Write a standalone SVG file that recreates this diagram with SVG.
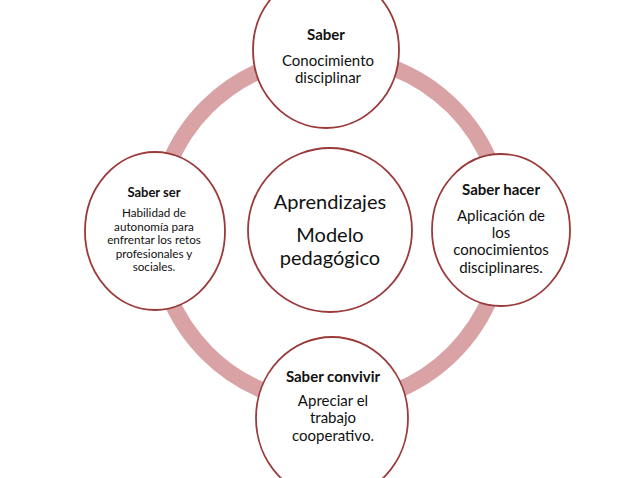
<svg xmlns="http://www.w3.org/2000/svg" width="638" height="478" viewBox="0 0 638 478">
<style>
.node{fill:#ffffff;stroke:#9b3a3a;stroke-width:1.8}
.ring{fill:none;stroke:#d9a3a6;stroke-width:16}
text{font-family:Lato,"Open Sans","Liberation Sans",sans-serif;fill:#111;text-anchor:middle}
.t{font-weight:bold;font-size:15px}
.b{font-size:15px}
.s{font-size:11.7px}
.c{font-size:20px}
</style>
<rect width="638" height="478" fill="#ffffff"/>
<g id="connectors">
<circle class="ring" cx="330" cy="230" r="174"/>
</g>
<g id="saber">
<ellipse class="node" cx="326" cy="50" rx="73" ry="78"/>
<text class="t" x="326" y="40">Saber</text>
<text class="b" x="328" y="66">Conocimiento</text>
<text class="b" x="328" y="83">disciplinar</text>
</g>
<g id="saber-hacer">
<ellipse class="node" cx="501" cy="230" rx="69" ry="76"/>
<text class="t" x="501" y="195">Saber hacer</text>
<text class="b" x="501" y="221">Aplicación de</text>
<text class="b" x="501" y="238">los</text>
<text class="b" x="501" y="255">conocimientos</text>
<text class="b" x="501" y="273">disciplinares.</text>
</g>
<g id="saber-ser">
<ellipse class="node" cx="155" cy="231" rx="70" ry="79"/>
<text class="t" x="154" y="197" style="font-size:13px">Saber ser</text>
<text class="s" x="154" y="217">Habilidad de</text>
<text class="s" x="154" y="230.5">autonomía para</text>
<text class="s" x="154" y="244">enfrentar los retos</text>
<text class="s" x="154" y="257.5">profesionales y</text>
<text class="s" x="154" y="271">sociales.</text>
</g>
<g id="saber-convivir">
<ellipse class="node" cx="332" cy="418" rx="76" ry="81"/>
<text class="t" x="333" y="382">Saber convivir</text>
<text class="b" x="333" y="406">Apreciar el</text>
<text class="b" x="333" y="423">trabajo</text>
<text class="b" x="333" y="441">cooperativo.</text>
</g>
<g id="aprendizajes">
<circle class="node" cx="330" cy="230" r="82"/>
<text class="c" x="330" y="209">Aprendizajes</text>
<text class="c" x="330" y="242">Modelo</text>
<text class="c" x="330" y="265">pedagógico</text>
</g>
</svg>
